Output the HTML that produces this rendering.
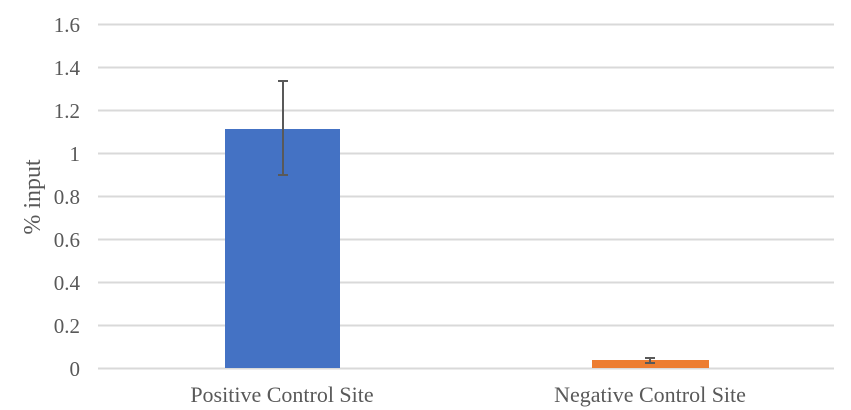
<!DOCTYPE html>
<html><head><meta charset="utf-8"><style>
html,body{margin:0;padding:0;background:#fff;}
svg{display:block;}
text{font-family:"Liberation Serif",serif;fill:#595959;}
</style></head><body>
<svg width="851" height="410" viewBox="0 0 851 410">
<g stroke="#d9d9d9" stroke-width="2">
<line x1="98" x2="834" y1="24.5" y2="24.5"/>
<line x1="98" x2="834" y1="67.5" y2="67.5"/>
<line x1="98" x2="834" y1="110.5" y2="110.5"/>
<line x1="98" x2="834" y1="153.5" y2="153.5"/>
<line x1="98" x2="834" y1="196.5" y2="196.5"/>
<line x1="98" x2="834" y1="239.5" y2="239.5"/>
<line x1="98" x2="834" y1="282.5" y2="282.5"/>
<line x1="98" x2="834" y1="325.5" y2="325.5"/>
<line x1="98" x2="834" y1="368.5" y2="368.5"/>
</g>
<g font-size="21" text-anchor="end">
<text x="80" y="32">1.6</text>
<text x="80" y="75">1.4</text>
<text x="80" y="118">1.2</text>
<text x="80" y="161">1</text>
<text x="80" y="204">0.8</text>
<text x="80" y="247">0.6</text>
<text x="80" y="290">0.4</text>
<text x="80" y="333">0.2</text>
<text x="80" y="376">0</text>
</g>
<text x="0" y="0" font-size="24" text-anchor="middle" transform="translate(40,197) rotate(-90)">% input</text>
<rect x="225" y="129" width="115" height="239" fill="#4472c4"/>
<rect x="592" y="360" width="117" height="8" fill="#ed7d31"/>
<g stroke="#595959" stroke-width="2">
<line x1="283" x2="283" y1="81" y2="175"/>
<line x1="278" x2="288" y1="81" y2="81"/>
<line x1="278" x2="288" y1="175" y2="175"/>
<line x1="650" x2="650" y1="358" y2="363"/>
<line x1="645" x2="655" y1="358" y2="358"/>
<line x1="645" x2="655" y1="363" y2="363"/>
</g>
<g font-size="22" text-anchor="middle">
<text x="282" y="402">Positive Control Site</text>
<text x="650" y="402">Negative Control Site</text>
</g>
</svg>
</body></html>
